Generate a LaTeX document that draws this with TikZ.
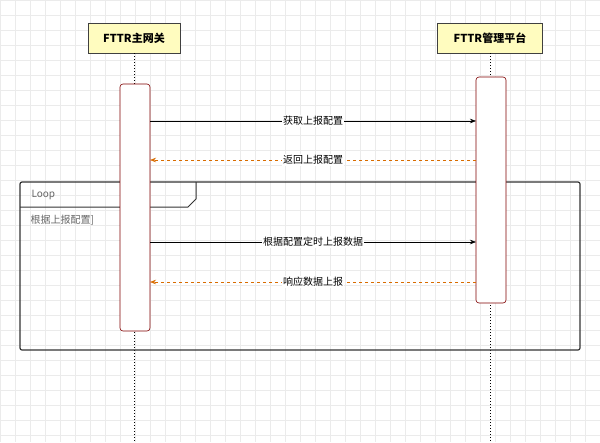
\documentclass[tikz,border=0pt]{standalone}
\usepackage{fontspec}
\setmainfont{Noto Sans CJK SC}
\usetikzlibrary{arrows.meta}
\begin{document}
\begin{tikzpicture}[x=1pt,y=-1pt,
  hdr/.style={draw=black!75,fill=yellow!25,line width=0.8pt,minimum width=92pt,minimum height=30pt,font=\bfseries\fontsize{11}{13}\selectfont},
  act/.style={draw=red!50!black,fill=white,rounded corners=3pt,line width=0.6pt},
  life/.style={dotted,line width=1pt},
  req/.style={-{Stealth[length=6pt]},line width=0.6pt},
  rep/.style={-{Stealth[length=6pt]},dashed,draw=orange!85!black,line width=0.6pt},
  lbl/.style={fill=white,font=\fontsize{10}{12}\selectfont,inner sep=1pt}]
\useasboundingbox (0,0) rectangle (600,442);
\fill[white] (0,0) rectangle (600,442);
\draw[black!8,step=15pt] (0,0) grid (600,442);
\node[hdr] (A) at (134,38) {FTTR主网关};
\node[hdr,minimum width=105pt] (B) at (490,38) {FTTR管理平台};
\coordinate (Ae) at (134,442); \coordinate (Be) at (490,442);
\draw[life] (A.south) -- (Ae);
\draw[life] (B.south) -- (Be);
% loop frame
\draw[black!80,line width=1.2pt,rounded corners=2pt] (20,182) rectangle (580,350);
\draw[black!80,line width=1pt] (20,207) -- (188,207) -- (196,199) -- (196,182);
\node[anchor=west,text=black!60,font=\fontsize{10}{12}\selectfont] (L) at (28,195) {Loop};
\node[anchor=west,text=black!60,font=\fontsize{10}{12}\selectfont] (G) at (27,220) {根据上报配置]};
\node[act,minimum width=30pt,minimum height=247pt,inner sep=0pt] (AA) at (135,207.5) {};
\node[act,minimum width=30pt,minimum height=226pt,inner sep=0pt] (BB) at (491,190) {};
\coordinate (a1) at (150,121); \coordinate (b1) at (476,121);
\coordinate (a2) at (150,160); \coordinate (b2) at (476,160);
\coordinate (a3) at (150,242); \coordinate (b3) at (476,242);
\coordinate (a4) at (150,282); \coordinate (b4) at (476,282);
\draw[req] (a1) -- node[lbl]{获取上报配置} (b1);
\draw[rep] (b2) -- node[lbl]{返回上报配置} (a2);
\draw[req] (a3) -- node[lbl]{根据配置定时上报数据} (b3);
\draw[rep] (b4) -- node[lbl]{响应数据上报} (a4);
\end{tikzpicture}
\end{document}
